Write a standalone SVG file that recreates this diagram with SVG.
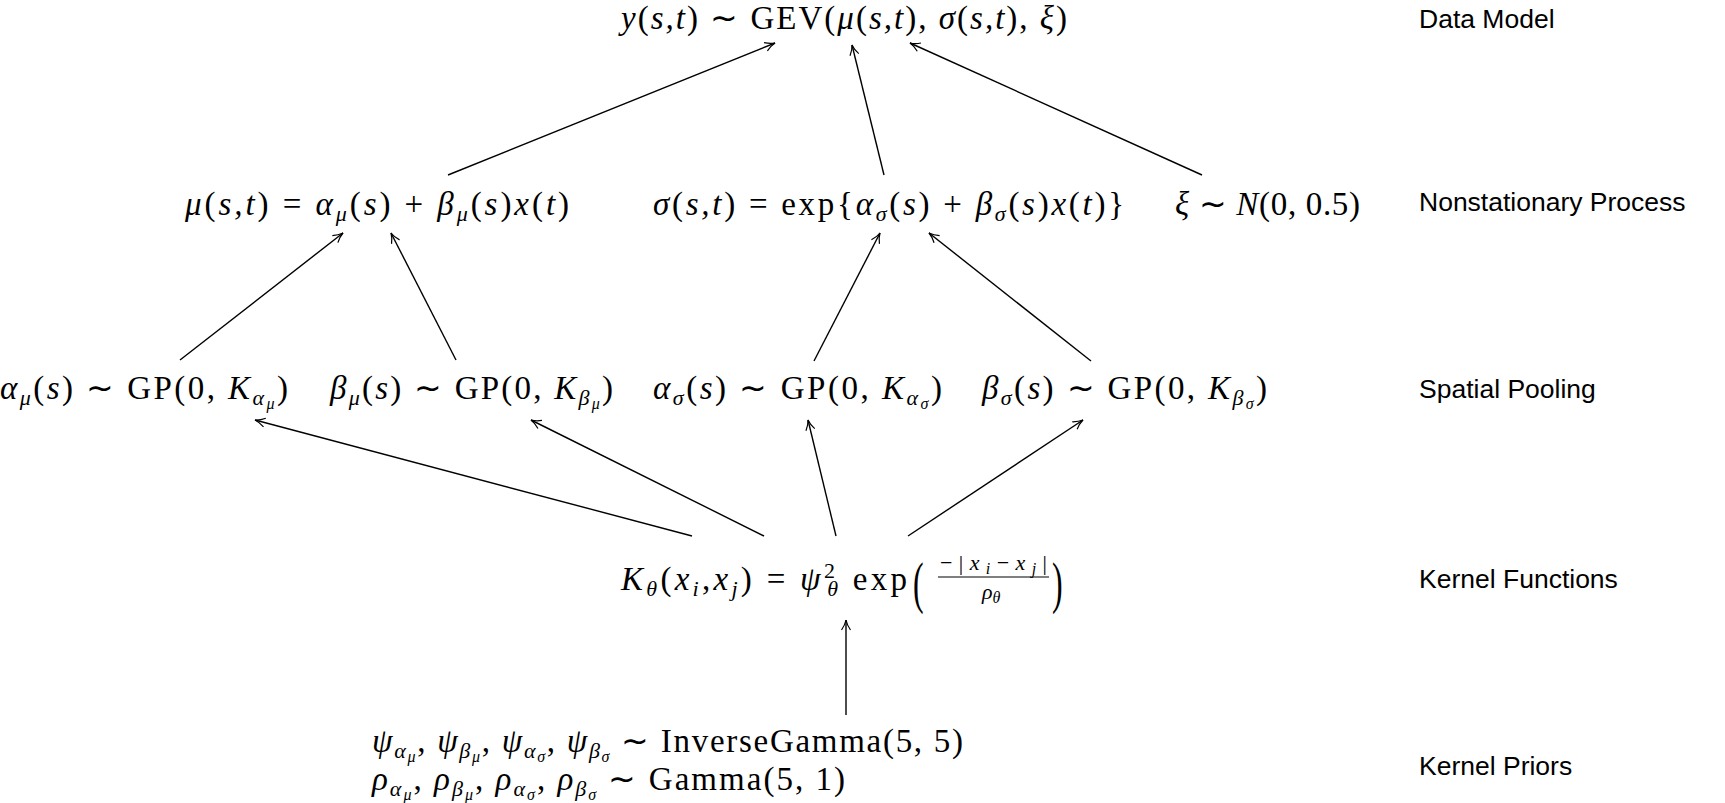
<svg xmlns="http://www.w3.org/2000/svg" width="1725" height="803" viewBox="0 0 1725 803">
<style>
.m{font-family:"Liberation Serif",serif;font-size:33px;fill:#000}
.i{font-style:italic}
.s{font-size:22px}
.ss{font-size:16px}
.lab{font-family:"Liberation Sans",sans-serif;font-size:26.5px;fill:#000}
.c{stroke:#000;stroke-width:1.4;fill:none}
</style>
<defs>
<marker id="ah" viewBox="0 0 12 12" refX="11" refY="6" markerWidth="12" markerHeight="12" markerUnits="userSpaceOnUse" orient="auto">
<path d="M1,1.5 Q6,5 11,6 Q6,7 1,10.5" fill="none" stroke="#000" stroke-width="1.2"/>
</marker>
</defs>
<rect width="1725" height="803" fill="#fff"/>
<g id="labels">
<text class="lab" x="1419" y="28">Data Model</text>
<text class="lab" x="1419" y="211">Nonstationary Process</text>
<text class="lab" x="1419" y="398">Spatial Pooling</text>
<text class="lab" x="1419" y="588">Kernel Functions</text>
<text class="lab" x="1419" y="775">Kernel Priors</text>
</g>
<g id="n-data"><text class="m" x="621" y="29" textLength="446"><tspan class="i">y</tspan>(<tspan class="i">s,t</tspan>) ∼ GEV(<tspan class="i">μ</tspan>(<tspan class="i">s,t</tspan>), <tspan class="i">σ</tspan>(<tspan class="i">s,t</tspan>), <tspan class="i">ξ</tspan>)</text></g>
<g id="n-mu"><text class="m" x="185" y="215" textLength="384"><tspan class="i">μ</tspan>(<tspan class="i">s,t</tspan>) = <tspan class="i">α</tspan><tspan class="s i" dy="6">μ</tspan><tspan dy="-6">(</tspan><tspan class="i">s</tspan>) + <tspan class="i">β</tspan><tspan class="s i" dy="6">μ</tspan><tspan dy="-6">(</tspan><tspan class="i">s</tspan>)<tspan class="i">x</tspan>(<tspan class="i">t</tspan>)</text></g>
<g id="n-sigma"><text class="m" x="653" y="215" textLength="471"><tspan class="i">σ</tspan>(<tspan class="i">s,t</tspan>) = exp{<tspan class="i">α</tspan><tspan class="s i" dy="6">σ</tspan><tspan dy="-6">(</tspan><tspan class="i">s</tspan>) + <tspan class="i">β</tspan><tspan class="s i" dy="6">σ</tspan><tspan dy="-6">(</tspan><tspan class="i">s</tspan>)<tspan class="i">x</tspan>(<tspan class="i">t</tspan>)}</text></g>
<g id="n-xi"><text class="m" x="1175" y="215" textLength="185"><tspan class="i">ξ</tspan> ∼ <tspan class="i">N</tspan>(0, 0.5)</text></g>
<g id="n-amu"><text class="m" x="0" y="399" textLength="288"><tspan class="i">α</tspan><tspan class="s i" dy="6">μ</tspan><tspan dy="-6">(</tspan><tspan class="i">s</tspan>) ∼ GP(0, <tspan class="i">K</tspan><tspan class="s i" dy="6">α</tspan><tspan class="ss i" dy="4">μ</tspan><tspan dy="-10">)</tspan></text></g>
<g id="n-bmu"><text class="m" x="330" y="399" textLength="283"><tspan class="i">β</tspan><tspan class="s i" dy="6">μ</tspan><tspan dy="-6">(</tspan><tspan class="i">s</tspan>) ∼ GP(0, <tspan class="i">K</tspan><tspan class="s i" dy="6">β</tspan><tspan class="ss i" dy="4">μ</tspan><tspan dy="-10">)</tspan></text></g>
<g id="n-asig"><text class="m" x="653" y="399" textLength="289"><tspan class="i">α</tspan><tspan class="s i" dy="6">σ</tspan><tspan dy="-6">(</tspan><tspan class="i">s</tspan>) ∼ GP(0, <tspan class="i">K</tspan><tspan class="s i" dy="6">α</tspan><tspan class="ss i" dy="4">σ</tspan><tspan dy="-10">)</tspan></text></g>
<g id="n-bsig"><text class="m" x="982" y="399" textLength="285"><tspan class="i">β</tspan><tspan class="s i" dy="6">σ</tspan><tspan dy="-6">(</tspan><tspan class="i">s</tspan>) ∼ GP(0, <tspan class="i">K</tspan><tspan class="s i" dy="6">β</tspan><tspan class="ss i" dy="4">σ</tspan><tspan dy="-10">)</tspan></text></g>
<g id="n-kernel">
<text class="m" x="621" y="590" textLength="286"><tspan class="i">K</tspan><tspan class="s i" dy="6">θ</tspan><tspan dy="-6">(</tspan><tspan class="i">x</tspan><tspan class="s i" dy="6">i</tspan><tspan dy="-6">,</tspan><tspan class="i">x</tspan><tspan class="s i" dy="6">j</tspan><tspan dy="-6">) = </tspan><tspan class="i">ψ</tspan><tspan class="s" dy="-12">2</tspan><tspan class="s i" dx="-11" dy="18">θ</tspan><tspan dy="-6"> exp</tspan></text>
<text class="m" x="913" y="602" style="font-size:58px" transform="translate(913 602) scale(0.55 1) translate(-913 -602)">(</text>
<text class="m" x="1052" y="602" style="font-size:58px" transform="translate(1052 602) scale(0.55 1) translate(-1052 -602)">)</text>
<text class="m" x="940" y="570" style="font-size:22px" textLength="107">−|<tspan class="i">x</tspan><tspan class="ss i" dy="4">i</tspan><tspan dy="-4">−</tspan><tspan class="i">x</tspan><tspan class="ss i" dy="4">j</tspan><tspan dy="-4">|</tspan></text>
<line x1="938" y1="577" x2="1049" y2="577" stroke="#000" stroke-width="1.2"/>
<text class="m" x="982" y="599" style="font-size:22px"><tspan class="i">ρ</tspan><tspan class="ss i" dy="4">θ</tspan></text>
</g>
<g id="n-priors">
<text class="m" x="372" y="752" textLength="591"><tspan class="i">ψ</tspan><tspan class="s i" dy="6">α</tspan><tspan class="ss i" dy="4">μ</tspan><tspan dy="-10">, </tspan><tspan class="i">ψ</tspan><tspan class="s i" dy="6">β</tspan><tspan class="ss i" dy="4">μ</tspan><tspan dy="-10">, </tspan><tspan class="i">ψ</tspan><tspan class="s i" dy="6">α</tspan><tspan class="ss i" dy="4">σ</tspan><tspan dy="-10">, </tspan><tspan class="i">ψ</tspan><tspan class="s i" dy="6">β</tspan><tspan class="ss i" dy="4">σ</tspan><tspan dy="-10"> ∼ InverseGamma(5, 5)</tspan></text>
<text class="m" x="372" y="790" textLength="473"><tspan class="i">ρ</tspan><tspan class="s i" dy="6">α</tspan><tspan class="ss i" dy="4">μ</tspan><tspan dy="-10">, </tspan><tspan class="i">ρ</tspan><tspan class="s i" dy="6">β</tspan><tspan class="ss i" dy="4">μ</tspan><tspan dy="-10">, </tspan><tspan class="i">ρ</tspan><tspan class="s i" dy="6">α</tspan><tspan class="ss i" dy="4">σ</tspan><tspan dy="-10">, </tspan><tspan class="i">ρ</tspan><tspan class="s i" dy="6">β</tspan><tspan class="ss i" dy="4">σ</tspan><tspan dy="-10"> ∼ Gamma(5, 1)</tspan></text>
</g>
<g id="connectors">
<line class="c" marker-end="url(#ah)" x1="448" y1="175" x2="775" y2="43"/>
<line class="c" marker-end="url(#ah)" x1="884" y1="175" x2="852" y2="45"/>
<line class="c" marker-end="url(#ah)" x1="1202" y1="175" x2="910" y2="43"/>
<line class="c" marker-end="url(#ah)" x1="180" y1="360" x2="343" y2="233"/>
<line class="c" marker-end="url(#ah)" x1="456" y1="360" x2="391" y2="233"/>
<line class="c" marker-end="url(#ah)" x1="814" y1="361" x2="880" y2="233"/>
<line class="c" marker-end="url(#ah)" x1="1091" y1="361" x2="929" y2="233"/>
<line class="c" marker-end="url(#ah)" x1="692" y1="536" x2="255" y2="420"/>
<line class="c" marker-end="url(#ah)" x1="764" y1="536" x2="531" y2="420"/>
<line class="c" marker-end="url(#ah)" x1="836" y1="536" x2="808" y2="420"/>
<line class="c" marker-end="url(#ah)" x1="908" y1="536" x2="1083" y2="420"/>
<line class="c" marker-end="url(#ah)" x1="846" y1="715" x2="846" y2="620"/>
</g>
</svg>
